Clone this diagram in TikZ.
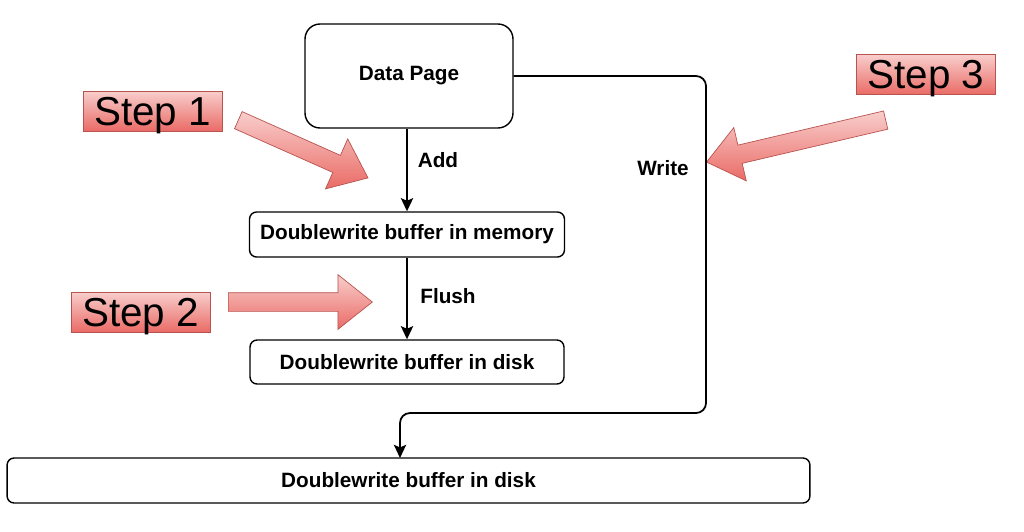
\documentclass[tikz,border=0pt]{standalone}
\usepackage{fontspec}
\setmainfont{Liberation Sans}
\usetikzlibrary{shapes.arrows, arrows.meta}
\definecolor{stepfill}{HTML}{F8CECC}
\definecolor{stepdark}{HTML}{EA6B66}
\definecolor{stepline}{HTML}{B85450}
\tikzstyle{block} = [rectangle, rounded corners=4pt, minimum height=0.9cm, text centered, draw=black, thick, font=\fontsize{11.8}{14}\selectfont\bfseries]
\tikzstyle{lbl} = [font=\fontsize{11.8}{14}\selectfont\bfseries]
\tikzstyle{stepbox} = [rectangle, minimum width=2.78cm, minimum height=0.8cm, inner sep=0pt, text depth=0pt, top color=stepfill, bottom color=stepdark, draw=stepline, font=\fontsize{23}{26}\selectfont]
\tikzstyle{bigarrow} = [single arrow, inner sep=0.18cm, single arrow head extend=0.36cm, single arrow tip angle=77, anchor=tail, top color=stepfill, bottom color=stepdark, draw=stepline]
\tikzstyle{arrow} = [line width=1pt,->,>={Stealth[length=7.5pt,width=7pt,inset=1.5pt]}]
\begin{document}
\begin{tikzpicture}[x=0.02cm, y=-0.02cm]
\useasboundingbox (0,0) rectangle (1024,531);

\node (dp) [block, rounded corners=0.3cm, minimum width=4.16cm, minimum height=2.08cm] at (409,76) {Data Page};
\node (mem) [block, minimum width=6.3cm] at (407,234.5) {Doublewrite buffer in memory};
\node (disk) [block, minimum width=6.28cm, minimum height=0.88cm] at (407,362) {Doublewrite buffer in disk};
\node (bot) [block, minimum width=16.06cm] at (408.5,480.5) {Doublewrite buffer in disk};
\coordinate (wr) at (706,413);
\coordinate (drop) at (400,458);

\node (s1) [stepbox] at (152.5,111) {Step 1};
\node (s2) [stepbox] at (140.5,312) {Step 2};
\node (s3) [stepbox] at (926,74.5) {Step 3};

\node (a1) [bigarrow, rotate=-24, minimum height=2.84cm] at (238,120) {};
\node (a2) [bigarrow, minimum height=2.88cm] at (228,302) {};
\node (a3) [bigarrow, rotate=193.2, minimum height=3.68cm] at (886,120) {};

\draw [arrow] (mem.north |- dp.south) -- (mem.north);
\draw [arrow] (mem.south) -- (disk.north);
\draw [arrow, rounded corners=0.2cm] (dp.east) -| (wr) -| (drop);

\node (add) [lbl] at (438,160) {Add};
\node (flush) [lbl] at (448,296) {Flush};
\node (write) [lbl] at (663,168) {Write};
\end{tikzpicture}
\end{document}
